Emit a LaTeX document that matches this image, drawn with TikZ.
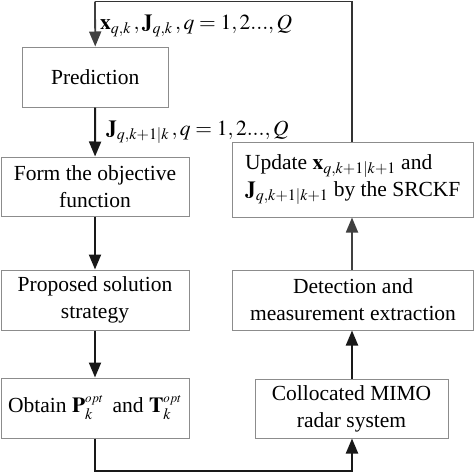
\documentclass[tikz,border=0pt]{standalone}
\usepackage{mathptmx}
\usepackage{fontspec}
\setmainfont{Liberation Serif}
\usetikzlibrary{arrows.meta}
\begin{document}
\begin{tikzpicture}[x=1pt,y=-1pt,
  box/.style={draw=black!45,line width=1pt,fill=white,align=center,inner sep=0pt,
    font=\fontsize{21.5}{27}\selectfont},
  flow/.style={line width=2pt,draw=black!90,-{Triangle[width=12pt,length=15pt]}},
  flowgray/.style={line width=1.8pt,draw=black!75,-{Triangle[width=12pt,length=15pt]}},
  lab/.style={anchor=west,inner sep=0pt,font=\fontsize{21.5}{27}\selectfont}]
\useasboundingbox (0,0) rectangle (474,474);
\node[box,minimum width=145.5pt,minimum height=60pt] (pred) at (95.25,77) {Prediction};
\node[box,minimum width=188pt,minimum height=59pt] (form) at (95,186.5) {Form the objective\\function};
\node[box,minimum width=188pt,minimum height=60pt] (prop) at (95,300) {Proposed solution\\strategy};
\node[box,minimum width=188pt,minimum height=60pt] (obt) at (95,408) {Obtain $\mathbf{P}_k^{\scriptscriptstyle opt}$\, and $\mathbf{T}_k^{\scriptscriptstyle opt}$};
\node[box,align=left,minimum width=241pt,minimum height=75pt] (upd) at (352.75,179.5) {Update $\mathbf{x}_{q,k+1|k+1}$ and\\$\mathbf{J}_{q,k+1|k+1}$ by the SRCKF};
\node[box,minimum width=241pt,minimum height=60pt] (det) at (353,300) {Detection and\\measurement extraction};
\node[box,minimum width=193pt,minimum height=59pt] (col) at (351.5,408.5) {Collocated MIMO\\radar system};
\coordinate (tl) at (95,1.5);
\coordinate (tr) at (352,1.5);
\coordinate (bl) at (95,470.5);
\coordinate (br) at (352,470.5);
\draw[line width=1.8pt,draw=black!80] (upd.north -| tr) -- (tr) -- (tl);
\draw[flowgray] (tl) -- (pred.north);
\draw[flow] (pred) -- (form);
\draw[flow] (form) -- (prop);
\draw[flow] (prop) -- (obt);
\draw[flow] (obt.south) -- (bl) -- (br) -- (col.south -| br);
\draw[flow] (col.north -| br) -- (det.south -| br);
\draw[flowgray] (det.north -| br) -- (upd.south -| br);
\node[lab] (l1) at (100,26) {$\mathbf{x}_{q,k}\,, \mathbf{J}_{q,k}\,, q=1,2...,Q$};
\node[lab] (l2) at (106,132) {$\mathbf{J}_{q,k+1|k}\,, q=1,2...,Q$};
\end{tikzpicture}
\end{document}
